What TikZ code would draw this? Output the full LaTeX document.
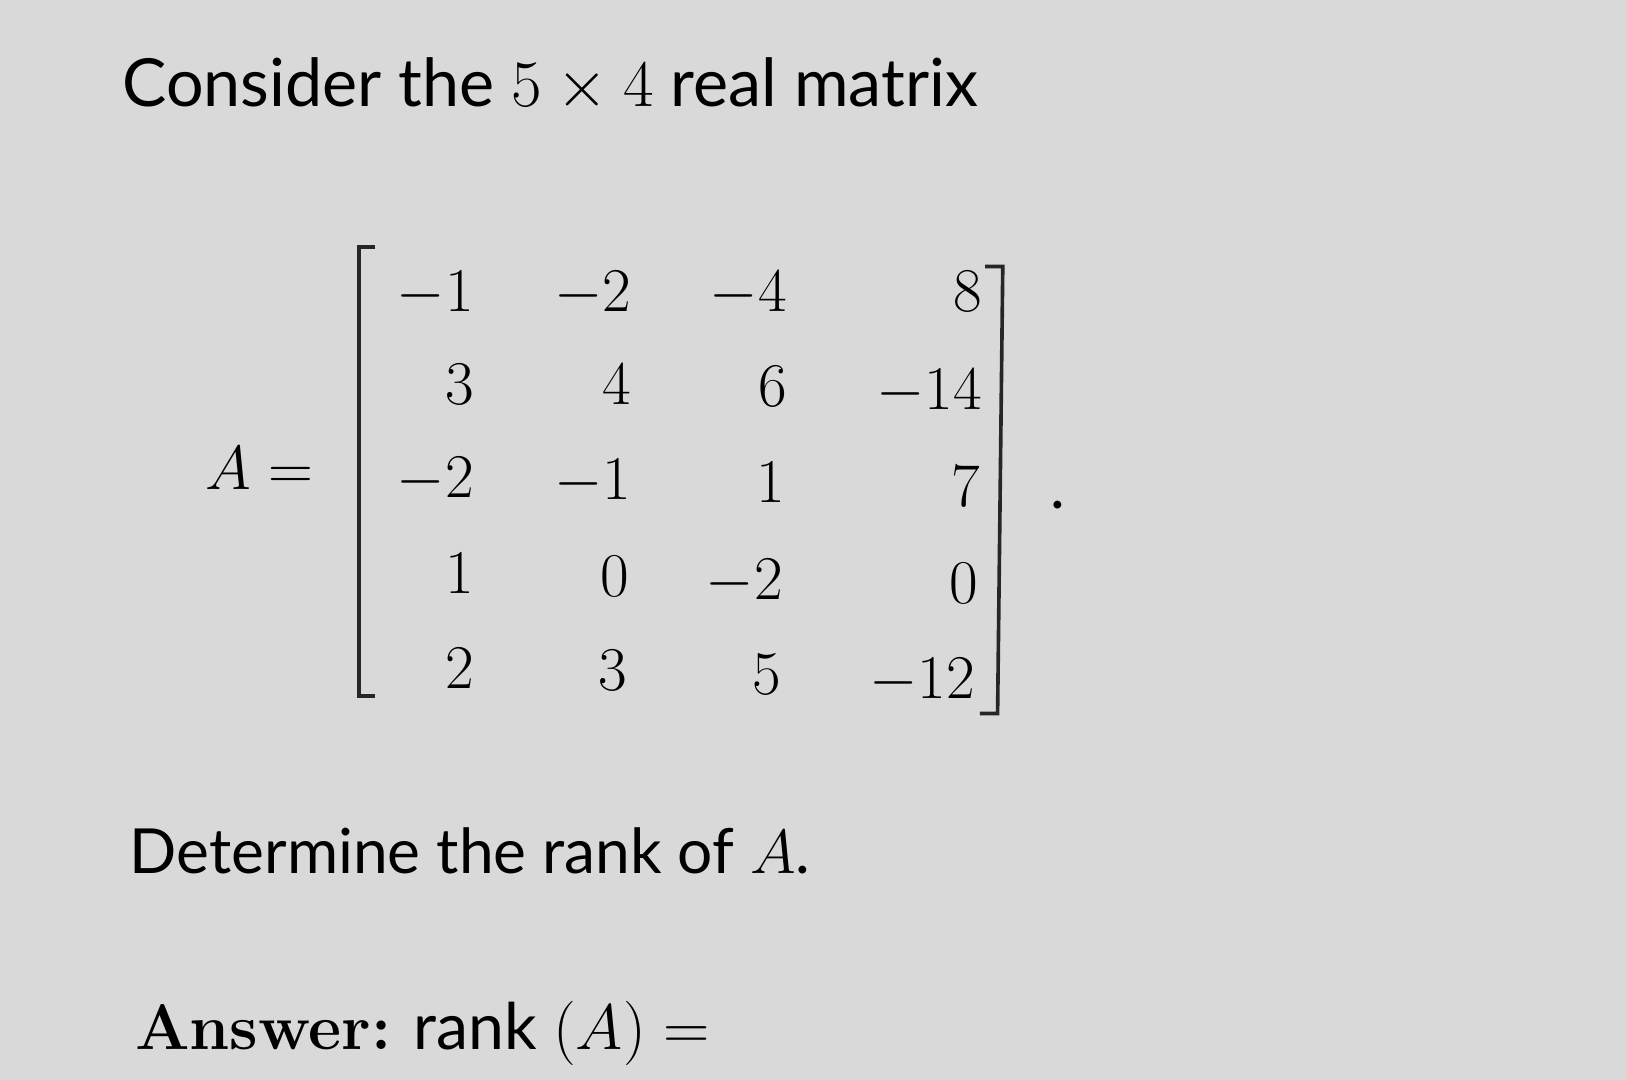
\RequirePackage{fix-cm}
\documentclass[tikz,border=0pt]{standalone}
\usepackage{amsmath}
\usepackage{fontspec}
\setmainfont{Lato}
\begin{document}
\begin{tikzpicture}[x=1pt,y=-1pt,
  txt/.style={anchor=base west,inner sep=0pt,font=\fontsize{62}{66}\selectfont},
  ent/.style={anchor=base east,inner sep=0pt,font=\fontsize{60}{64}\selectfont},
  br/.style={line width=3.5pt,draw=black!85}]
\fill[gray!30] (0,0) rectangle (1568,1041);
\useasboundingbox (0,0) rectangle (1568,1041);
\node[txt,font=\fontsize{64}{68}\selectfont] (t1) at (118,103) {Consider the $5\times 4$ real matrix};
\node[ent] (A) at (302,472) {$A=$};
\node[ent] (a11) at (457,300) {$-1$};
\node[ent] (a12) at (609,300) {$-2$};
\node[ent] (a13) at (759,300) {$-4$};
\node[ent] (a14) at (947,300) {$8$};
\node[ent] (a21) at (457,390) {$3$};
\node[ent] (a22) at (609,390) {$4$};
\node[ent] (a23) at (759,392) {$6$};
\node[ent] (a24) at (947,395) {$-14$};
\node[ent] (a31) at (457,480) {$-2$};
\node[ent] (a32) at (609,482) {$-1$};
\node[ent] (a33) at (757,485) {$1$};
\node[ent] (a34) at (945,488) {$7$};
\node[ent] (a41) at (457,572) {$1$};
\node[ent] (a42) at (607,575) {$0$};
\node[ent] (a43) at (755,578) {$-2$};
\node[ent] (a44) at (943,582) {$0$};
\node[ent] (a51) at (457,664) {$2$};
\node[ent] (a52) at (605,666) {$3$};
\node[ent] (a53) at (753,670) {$5$};
\node[ent] (a54) at (940,674) {$-12$};
\draw[br] (362,238) -- (346,238) -- (346,671) -- (362,671);
\draw[br] (950,257) -- (967,257) -- (962,688) -- (945,688);
\node[ent] (dot) at (1027,490) {.};
\node[txt,font=\fontsize{60}{64}\selectfont] (t2) at (125,842) {Determine the rank of $A$.};
\node[txt,font=\fontsize{62}{66}\selectfont] (t3) at (130,1012) {\textbf{\fontspec{Latin Modern Roman}Answer:} rank $(A)=$};
\end{tikzpicture}
\end{document}
